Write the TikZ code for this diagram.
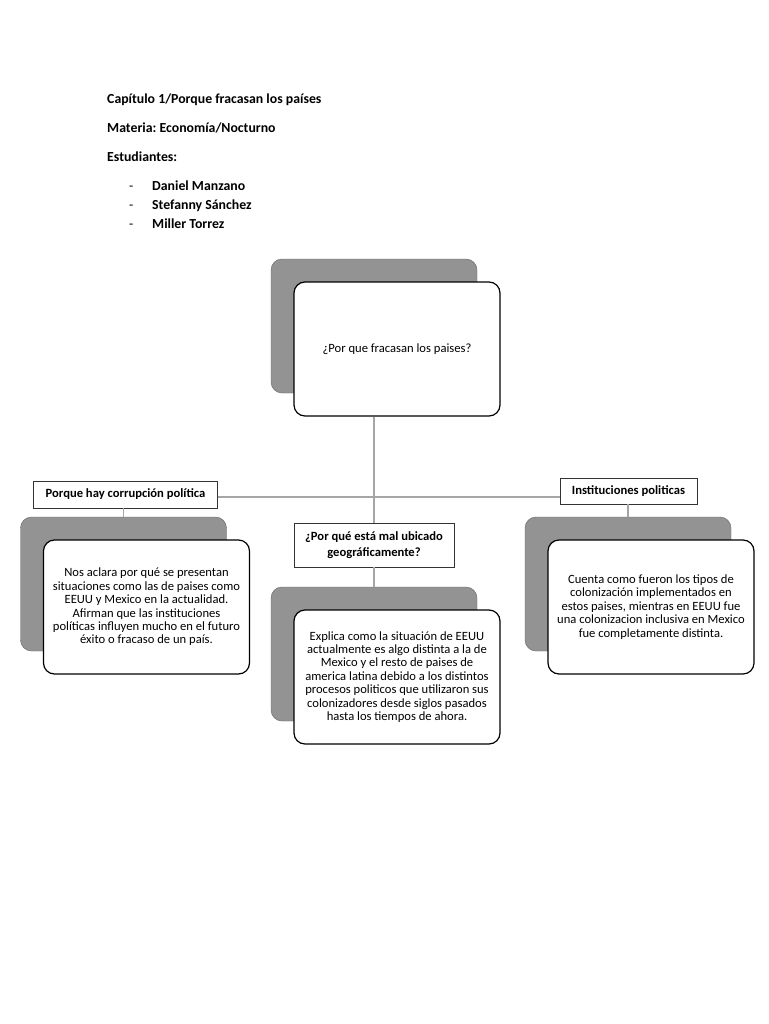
\documentclass[tikz,border=0pt]{standalone}
\usepackage{fontspec}
\setmainfont{Carlito}
\usetikzlibrary{positioning,calc}
\frenchspacing

\begin{document}
\begin{tikzpicture}[x=1pt,y=-1pt]
% styles for the boxes of the map
\tikzset{shadowbox/.style={draw=gray!80!black, fill=gray!85, rounded corners=11pt, minimum width=206pt, minimum height=134pt}}
\tikzset{cardbox/.style={draw=black, line width=1.2pt, fill=white, rounded corners=11pt, minimum width=206pt, minimum height=134pt, align=center, font=\fontsize{12.6}{13.4}\selectfont}}
\tikzset{labelbox/.style={draw=black!80, line width=0.8pt, fill=white, align=center, inner sep=1pt, font=\fontsize{12.6}{15.5}\selectfont\bfseries}}
\tikzset{link/.style={draw=gray!70, line width=1.4pt}}
\tikzset{head/.style={anchor=base west, inner sep=0pt, font=\fontsize{13.8}{16}\selectfont\bfseries}}
\useasboundingbox[fill=white] (0,0) rectangle (768,1024);

% header
\node[head] (title) at (107,104) {Capítulo 1/Porque fracasan los países};
\node[head] (subject) at (107,133) {Materia: Economía/Nocturno};
\node[head] (students) at (107,162) {Estudiantes:};
\foreach \name [count=\i] in {Daniel Manzano, Stefanny Sánchez, Miller Torrez} {
  \node[head, font=\fontsize{13.8}{16}\selectfont] (dash\i) at (129,172+19*\i) {-};
  \node[head] (student\i) at (152,172+19*\i) {\name};
}

% main question
\node[shadowbox] (qs) at (374,326) {};
\node[cardbox] (q) at (397,349) {¿Por que fracasan los paises?};

% three branches
\node[labelbox, minimum width=184pt, minimum height=27pt] (left) at (125.5,494.5) {Porque hay corrupción política};
\node[labelbox, minimum width=160pt, minimum height=44pt] (mid) at (374,545) {¿Por qué está mal ubicado\\geográficamente?};
\node[labelbox, minimum width=137pt, minimum height=26pt] (right) at (628.5,491) {Instituciones politicas};

\node[shadowbox] (ls) at (123.5,584) {};
\node[cardbox] (lc) at (146.5,607) {Nos aclara por qué se presentan\\situaciones como las de paises como\\EEUU y Mexico en la actualidad.\\Afirman que las instituciones\\políticas influyen mucho en el futuro\\éxito o fracaso de un país.};

\node[shadowbox] (ms) at (374,654) {};
\node[cardbox] (mc) at (397,677) {Explica como la situación de EEUU\\actualmente es algo distinta a la de\\Mexico y el resto de paises de\\america latina debido a los distintos\\procesos politicos que utilizaron sus\\colonizadores desde siglos pasados\\hasta los tiempos de ahora.};

\node[shadowbox] (rs) at (628,584) {};
\node[cardbox] (rc) at (651,607) {Cuenta como fueron los tipos de\\colonización implementados en\\estos paises, mientras en EEUU fue\\una colonizacion inclusiva en Mexico\\fue completamente distinta.};

% connectors
\coordinate (hub) at (374,497);
\draw[link] (qs.south |- q.south) -- (mid.north);
\draw[link] (left.east |- hub) -- (right.west |- hub);
\draw[link] (ls.north |- left.south) -- (ls.north);
\draw[link] (mid.south) -- (ms.north);
\draw[link] (rs.north |- right.south) -- (rs.north);
\end{tikzpicture}
\end{document}
